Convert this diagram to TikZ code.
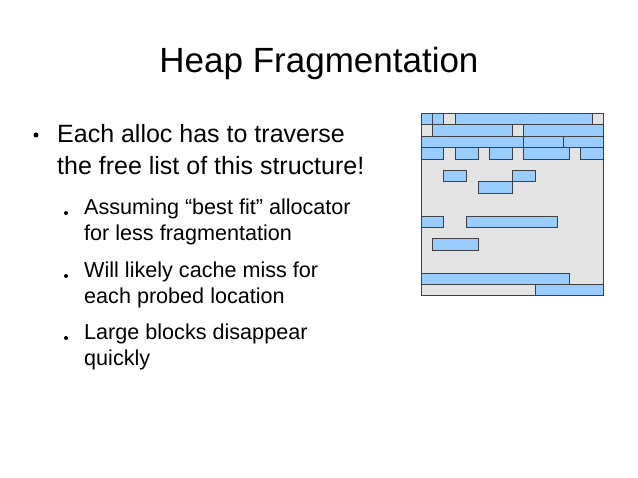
\documentclass[tikz,border=0pt]{standalone}
\usepackage{fontspec}
\setmainfont{Liberation Sans}
\begin{document}
\begin{tikzpicture}[x=1pt,y=-1pt,
  blk/.style={draw=black!75,fill={rgb,255:red,153;green,204;blue,255},line width=0.8pt},
  t1/.style={anchor=base west,inner sep=0,font=\fontsize{25}{30}\selectfont},
  t2/.style={anchor=base west,inner sep=0,font=\fontsize{21.6}{26}\selectfont},
  dot/.style={circle,fill=black,inner sep=0,minimum size=5pt}]
\useasboundingbox (0,0) rectangle (638,478);
\node[anchor=base,inner sep=0,font=\fontsize{35}{40}\selectfont] (title) at (319,73) {Heap Fragmentation};
\node[dot] (d1) at (36,135) {};
\node[t1] (m1) at (57,143) {Each alloc has to traverse};
\node[t1] (m2) at (57,175) {the free list of this structure!};
\node[dot,minimum size=4pt] (d2) at (66,213) {};
\node[t2] (s1) at (84,215) {Assuming “best fit” allocator};
\node[t2] (s1b) at (84,241) {for less fragmentation};
\node[dot,minimum size=4pt] (d3) at (66,276) {};
\node[t2] (s2) at (84,278) {Will likely cache miss for};
\node[t2] (s2b) at (84,304) {each probed location};
\node[dot,minimum size=4pt] (d4) at (66,338) {};
\node[t2] (s3) at (84,340) {Large blocks disappear};
\node[t2] (s3b) at (84,366) {quickly};
\begin{scope}[shift={(421,113.5)},x=11.4pt,y=-11.4pt]
\fill[black!11] (0,0) rectangle (16,16);
\foreach \a/\b/\r in {0/1/0,1/2/0,3/15/0,1/8/1,9/16/1,0/9/2,9/12.5/2,12.5/16/2,
  0/2/3,3/5/3,6/8/3,9/13/3,14/16/3,2/4/5,8/10/5,5/8/6,0/2/9,4/12/9,1/5/11,0/13/14,10/16/15}
  \draw[blk] (\a,\r) rectangle (\b,\r+1);
\draw[black!75,line width=0.8pt] (0,0) rectangle (16,16);
\end{scope}
\end{tikzpicture}
\end{document}
